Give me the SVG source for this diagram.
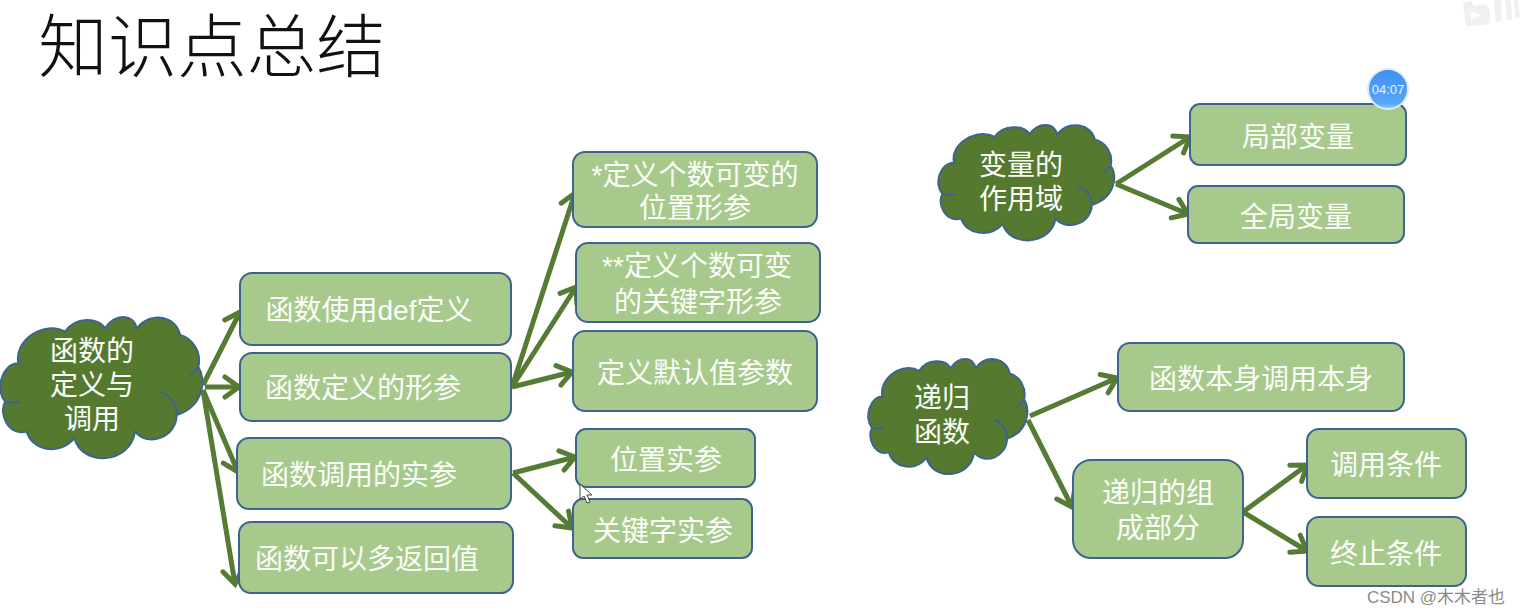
<svg xmlns="http://www.w3.org/2000/svg" width="1520" height="616" viewBox="0 0 1520 616">
<style>
text{font-family:"Liberation Sans","Noto Sans CJK SC",sans-serif;fill:#fbfdf8;font-size:28px;text-anchor:middle;font-weight:400}
.box{fill:#a8c98c;stroke:#3f6390;stroke-width:2}
.cl{fill:#54792f;stroke:#3f6390;stroke-width:2;vector-effect:non-scaling-stroke}
.in{fill:none;stroke:#3f6390;stroke-width:2;vector-effect:non-scaling-stroke}
.c{stroke:#567b34;stroke-width:5;fill:none;marker-end:url(#a)}
</style>
<defs>
<marker id="a" markerUnits="userSpaceOnUse" markerWidth="30" markerHeight="30" refX="20" refY="15" orient="auto">
<path d="M6,5 L20,15 L6,25" fill="none" stroke="#567b34" stroke-width="5" stroke-linecap="round"/>
</marker>
<linearGradient id="tg" x1="0" y1="0" x2="0" y2="1"><stop offset="0" stop-color="#3f8ff5"/><stop offset=".85" stop-color="#55a6f6"/><stop offset="1" stop-color="#8fd0e8"/></linearGradient>
<g id="cloud">
<path class="cl" d="M50,310 C35,240 130,180 190,215 C220,170 290,170 310,205 C340,160 395,160 405,205 C450,150 525,170 535,225 C575,235 600,280 590,320 C615,360 605,440 525,465 C525,530 440,565 400,515 C385,615 240,620 218,535 C170,590 90,570 75,515 C20,530 -10,460 10,425 C-20,390 0,310 50,310Z"/>
<path class="in" d="M565,345 Q582,335 590,320 M475,395 Q525,415 525,465 M10,425 Q30,428 55,428"/>
</g>
</defs>
<rect width="1520" height="616" fill="#fff"/>
<text id="title" x="212" y="72" style="font-size:69.5px;fill:#111;font-weight:300">知识点总结</text>
<path id="watermark" d="M1463,3 L1472,1 L1473,6 L1484,4 Q1490,6 1490,14 L1490,22 Q1488,25 1482,25 L1466,26Z M1471,11 L1471,20 L1482,15Z M1494,0 L1501,0 L1502,21 L1496,22Z M1505,0 L1511,0 L1512,19 L1507,20Z M1514,0 L1518,0 L1520,17 L1515,18Z" fill="#f0f0f0" fill-rule="evenodd"/>
<g id="connectors">
<line class="c" x1="203" y1="385" x2="240" y2="312"/>
<line class="c" x1="205" y1="387" x2="239" y2="387"/>
<line class="c" x1="203" y1="390" x2="238" y2="472"/>
<line class="c" x1="203" y1="390" x2="235" y2="584"/>
<line class="c" x1="512" y1="387" x2="575" y2="193"/>
<line class="c" x1="512" y1="387" x2="576" y2="287"/>
<line class="c" x1="512" y1="387" x2="572" y2="372"/>
<line class="c" x1="513" y1="473" x2="575" y2="457"/>
<line class="c" x1="513" y1="473" x2="572" y2="528"/>
<line class="c" x1="1030" y1="416" x2="1117" y2="378"/>
<line class="c" x1="1028" y1="420" x2="1072" y2="507"/>
<line class="c" x1="1116" y1="184" x2="1190" y2="137"/>
<line class="c" x1="1116" y1="184" x2="1188" y2="214"/>
<line class="c" x1="1243" y1="512" x2="1307" y2="465"/>
<line class="c" x1="1243" y1="512" x2="1307" y2="551"/>
</g>
<g id="n-func"><use href="#cloud" transform="translate(1.7,260) scale(.3333)"/><text x="92" y="361">函数的</text><text x="92" y="395">定义与</text><text x="92" y="429">调用</text></g>
<g id="n-recur"><use href="#cloud" transform="translate(869.3,312.3) scale(.2623,.272)"/><text x="942" y="408">递归</text><text x="942" y="442">函数</text></g>
<g id="n-scope"><use href="#cloud" transform="translate(939.5,78.2) scale(.29,.2727)"/><text x="1021" y="175">变量的</text><text x="1021" y="209">作用域</text></g>
<g id="n1"><rect class="box" x="240" y="273" width="271" height="72" rx="12"/><text x="369" y="320">函数使用def定义</text></g>
<g id="n2"><rect class="box" x="240" y="353" width="271" height="68" rx="12"/><text x="363" y="398">函数定义的形参</text></g>
<g id="n3"><rect class="box" x="237" y="438" width="274" height="71" rx="12"/><text x="359" y="485">函数调用的实参</text></g>
<g id="n4"><rect class="box" x="239" y="522" width="274" height="71" rx="12"/><text x="367" y="569">函数可以多返回值</text></g>
<g id="n5"><rect class="box" x="573" y="152" width="244" height="75" rx="12"/><text x="695" y="185">*定义个数可变的</text><text x="695" y="218">位置形参</text></g>
<g id="n6"><rect class="box" x="576" y="243" width="244" height="79" rx="12"/><text x="697" y="276">**定义个数可变</text><text x="698" y="312">的关键字形参</text></g>
<g id="n7"><rect class="box" x="573" y="331" width="244" height="80" rx="12"/><text x="695" y="383">定义默认值参数</text></g>
<g id="n8"><rect class="box" x="576" y="429" width="179" height="58" rx="10"/><text x="666" y="470">位置实参</text></g>
<g id="n9"><rect class="box" x="573" y="499" width="179" height="59" rx="10"/><text x="663" y="541">关键字实参</text></g>
<g id="n10"><rect class="box" x="1190" y="104" width="216" height="61" rx="10"/><text x="1298" y="147">局部变量</text></g>
<g id="n11"><rect class="box" x="1188" y="186" width="216" height="57" rx="10"/><text x="1296" y="227">全局变量</text></g>
<g id="n12"><rect class="box" x="1118" y="343" width="286" height="68" rx="12"/><text x="1261" y="389">函数本身调用本身</text></g>
<g id="n13"><rect class="box" x="1073" y="460" width="170" height="98" rx="18"/><text x="1158" y="503">递归的组</text><text x="1158" y="538">成部分</text></g>
<g id="n14"><rect class="box" x="1307" y="429" width="159" height="69" rx="12"/><text x="1386" y="475">调用条件</text></g>
<g id="n15"><rect class="box" x="1307" y="517" width="159" height="69" rx="12"/><text x="1386" y="564">终止条件</text></g>
<g id="timer"><circle cx="1388" cy="89" r="20" fill="url(#tg)" stroke="#dcecf8" stroke-width="2"/><text x="1388" y="94" style="font-size:13px;fill:#e8f2ff">04:07</text></g>
<path id="cursor" d="M580,484 L580,499 L584,496 L587,503 L590,502 L587,495 L592,495Z" fill="#fff" stroke="#444" stroke-width="1"/>
<text id="credit" x="1436" y="603" style="font-size:17px;fill:#8a8a8a">CSDN @木木者也</text>
</svg>
